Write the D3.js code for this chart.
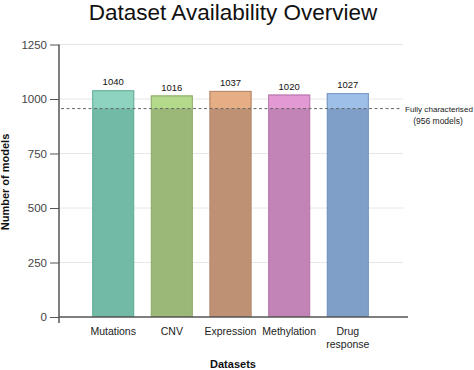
<!DOCTYPE html>
<html>
<head>
<meta charset="utf-8">
<script src="https://cdn.jsdelivr.net/npm/d3@7"></script>
<style>
  body { margin: 0; background: #fff; }
  text { font-family: "Liberation Sans", Arial, sans-serif; }
</style>
</head>
<body>
<svg id="chart" width="474" height="370"></svg>
<script>
// chart data
var datasets = ["Mutations", "CNV", "Expression", "Methylation", "Drug response"];
var counts = [1040, 1016, 1037, 1020, 1027];
var fullyCharacterised = 956;
var yTicks = [0, 250, 500, 750, 1000, 1250];
var baseColors = ["#72baa5", "#9bb878", "#bf9174", "#c283b6", "#7f9fc9"];
var topColors = ["#8dd3c0", "#b3d98a", "#e5ae85", "#e39ad4", "#9ec0e8"];

var svg = d3.select("#chart");

var y = d3.scaleLinear()
    .domain([0, 1250])
    .range([317, 44.5]);

var x = d3.scaleBand()
    .domain(datasets)
    .range([84, 377])
    .paddingInner(0.285)
    .paddingOuter(0.14);

var axisLeft = 59, axisRight = 408;

// title
svg.append("text")
    .attr("x", 233)
    .attr("y", 20)
    .attr("text-anchor", "middle")
    .style("font-size", "22.5px")
    .style("fill", "#111")
    .text("Dataset Availability Overview");

// grid lines
svg.append("g").selectAll("line")
    .data(yTicks.slice(1))
    .enter().append("line")
    .attr("x1", axisLeft)
    .attr("x2", 403)
    .attr("y1", function(d){ return y(d); })
    .attr("y2", function(d){ return y(d); })
    .style("stroke", "#e6e6e6")
    .style("stroke-width", 1);

// bars: full bar in base colour, lighter part above the fully characterised line
var bars = svg.append("g").selectAll("g")
    .data(datasets)
    .enter().append("g");

bars.append("rect")
    .attr("x", function(d){ return x(d); })
    .attr("y", function(d, i){ return y(counts[i]); })
    .attr("width", x.bandwidth())
    .attr("height", function(d, i){ return y(0) - y(counts[i]); })
    .style("fill", function(d, i){ return baseColors[i]; });

bars.append("rect")
    .attr("x", function(d){ return x(d); })
    .attr("y", function(d, i){ return y(counts[i]); })
    .attr("width", x.bandwidth())
    .attr("height", function(d, i){ return y(fullyCharacterised) - y(counts[i]); })
    .style("fill", function(d, i){ return topColors[i]; });

bars.append("rect")
    .attr("x", function(d){ return x(d) + 0.5; })
    .attr("y", function(d, i){ return y(counts[i]) + 0.5; })
    .attr("width", x.bandwidth() - 1)
    .attr("height", function(d, i){ return y(0) - y(counts[i]) - 1; })
    .style("fill", "none")
    .style("stroke", function(d, i){ return d3.color(baseColors[i]).darker(0.15); })
    .style("stroke-width", 1);

bars.append("text")
    .attr("x", function(d){ return x(d) + x.bandwidth() / 2; })
    .attr("y", function(d, i){ return y(counts[i]) - 5; })
    .attr("text-anchor", "middle")
    .style("font-size", "9.5px")
    .style("fill", "#111")
    .text(function(d, i){ return counts[i]; });

// fully characterised reference line
svg.append("line")
    .attr("x1", axisLeft + 2)
    .attr("x2", 402)
    .attr("y1", y(fullyCharacterised))
    .attr("y2", y(fullyCharacterised))
    .style("stroke", "#666")
    .style("stroke-width", 1)
    .style("stroke-dasharray", "3,2.5");

svg.append("text")
    .attr("x", 405)
    .attr("y", y(fullyCharacterised) + 3)
    .style("font-size", "8.1px")
    .style("fill", "#222")
    .text("Fully characterised");

svg.append("text")
    .attr("x", 438)
    .attr("y", y(fullyCharacterised) + 15)
    .attr("text-anchor", "middle")
    .style("font-size", "8.5px")
    .style("fill", "#222")
    .text("(956 models)");

// y axis
var yAxis = d3.axisLeft(y)
    .tickValues(yTicks)
    .tickFormat(d3.format("d"))
    .tickSize(9)
    .tickPadding(3);

var gy = svg.append("g")
    .attr("transform", "translate(" + axisLeft + ",0)")
    .call(yAxis);
gy.select(".domain").remove();
gy.selectAll(".tick line").style("stroke", "#555").style("stroke-width", 1);
gy.selectAll(".tick text")
    .style("font-size", "11.5px")
    .style("fill", "#444")
    .style("font-family", "'Liberation Sans', Arial, sans-serif");

svg.append("line")
    .attr("x1", axisLeft).attr("x2", axisLeft)
    .attr("y1", y(1250)).attr("y2", 323)
    .style("stroke", "#555").style("stroke-width", 1.5);

// x axis
svg.append("line")
    .attr("x1", axisLeft).attr("x2", axisRight)
    .attr("y1", y(0)).attr("y2", y(0))
    .style("stroke", "#555").style("stroke-width", 1.5);

var xLabels = svg.append("g").selectAll("text")
    .data(datasets)
    .enter().append("text")
    .attr("x", function(d){ return x(d) + x.bandwidth() / 2; })
    .attr("y", 335)
    .attr("text-anchor", "middle")
    .style("font-size", "10.5px")
    .style("fill", "#222");

xLabels.each(function(d){
  var words = d.split(" ");
  var t = d3.select(this);
  words.forEach(function(w, i){
    t.append("tspan")
      .attr("x", t.attr("x"))
      .attr("dy", i === 0 ? 0 : 13)
      .text(w);
  });
});

// axis titles
svg.append("text")
    .attr("x", 233)
    .attr("y", 368)
    .attr("text-anchor", "middle")
    .style("font-size", "11px")
    .style("font-weight", "bold")
    .style("fill", "#111")
    .text("Datasets");

svg.append("text")
    .attr("transform", "translate(9,182) rotate(-90)")
    .attr("text-anchor", "middle")
    .style("font-size", "11px")
    .style("font-weight", "bold")
    .style("fill", "#111")
    .text("Number of models");
</script>
</body>
</html>
